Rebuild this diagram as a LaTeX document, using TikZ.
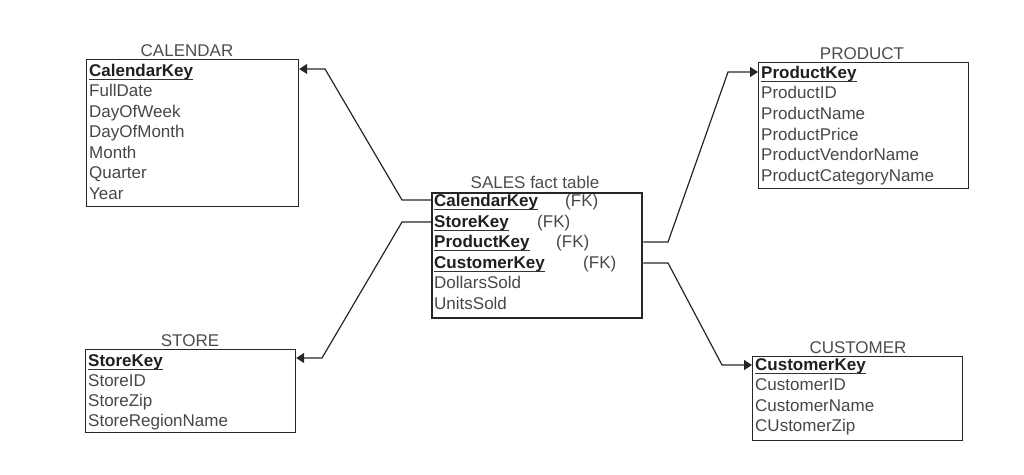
\documentclass[tikz,border=0pt]{standalone}
\usepackage{fontspec}
\setmainfont{Liberation Sans}
\usetikzlibrary{arrows.meta}
\begin{document}
\begin{tikzpicture}[x=1pt,y=-1pt,
  tbl/.style={draw=black!85, line width=1.2pt, anchor=north west, inner sep=0pt},
  fact/.style={draw=black!85, line width=2.4pt, anchor=north west, inner sep=0pt},
  row/.style={anchor=west, inner sep=0pt, text=black!72, font=\fontsize{17}{20}\selectfont, text height=12pt, text depth=3.5pt},
  ul/.style={draw=black!80, line width=1.3pt},
  key/.style={row, text=black!88, font=\fontsize{17}{20}\selectfont\bfseries,
    append after command={([yshift=-3pt]\tikzlastnode.base west) edge[ul] ([yshift=-3pt]\tikzlastnode.base east)}},
  ttl/.style={anchor=south, inner sep=0pt, text=black!70, font=\fontsize{17}{20}\selectfont},
  conn/.style={draw=black!85, line width=1.2pt},
  arr/.style={conn, -{Triangle[length=8pt,width=10pt]}}
]
\useasboundingbox (0,0) rectangle (1024,474);
% CALENDAR
\node[tbl, minimum width=212, minimum height=147] (cal) at (86,59) {};
\node[ttl] (calt) at (187,57) {CALENDAR};
\node[key] (c1) at (89,72) {CalendarKey};
\node[row] (c2) at (89,92.5) {FullDate};
\node[row] (c3) at (89,113) {DayOfWeek};
\node[row] (c4) at (89,133.5) {DayOfMonth};
\node[row] (c5) at (89,154) {Month};
\node[row] (c6) at (89,174.5) {Quarter};
\node[row] (c7) at (89,195) {Year};
% STORE
\node[tbl, minimum width=210, minimum height=83] (st) at (85,349) {};
\node[ttl] (stt) at (190,347) {STORE};
\node[key] (t1) at (88,362) {StoreKey};
\node[row] (t2) at (88,382) {StoreID};
\node[row] (t3) at (88,402) {StoreZip};
\node[row] (t4) at (88,422) {StoreRegionName};
% SALES
\node[fact, minimum width=210, minimum height=125] (sa) at (431,192) {};
\node[ttl] (sat) at (535,189) {SALES fact table};
\node[key] (s1) at (434,202.5) {CalendarKey};
\node[row] (s1f) at (565,202.5) {(FK)};
\node[key] (s2) at (434,223) {StoreKey};
\node[row] (s2f) at (537,223) {(FK)};
\node[key] (s3) at (434,243.5) {ProductKey};
\node[row] (s3f) at (556,243.5) {(FK)};
\node[key] (s4) at (434,264) {CustomerKey};
\node[row] (s4f) at (583,264) {(FK)};
\node[row] (s5) at (434,284.5) {DollarsSold};
\node[row] (s6) at (434,305) {UnitsSold};
% PRODUCT
\node[tbl, minimum width=210, minimum height=126] (pr) at (758,62) {};
\node[ttl] (prt) at (862,60) {PRODUCT};
\node[key] (p1) at (761,74) {ProductKey};
\node[row] (p2) at (761,94.6) {ProductID};
\node[row] (p3) at (761,115.2) {ProductName};
\node[row] (p4) at (761,135.8) {ProductPrice};
\node[row] (p5) at (761,156.4) {ProductVendorName};
\node[row] (p6) at (761,177) {ProductCategoryName};
% CUSTOMER
\node[tbl, minimum width=210, minimum height=84] (cu) at (752,356) {};
\node[ttl] (cut) at (858,354) {CUSTOMER};
\node[key] (u1) at (755,366) {CustomerKey};
\node[row] (u2) at (755,386.5) {CustomerID};
\node[row] (u3) at (755,407) {CustomerName};
\node[row] (u4) at (755,427.5) {CUstomerZip};
% connectors
\coordinate (k1) at (402,200);
\coordinate (k2) at (325,69);
\draw[arr] (sa.west |- k1) -- (k1) -- (k2) -- (cal.east |- k2);
\coordinate (k3) at (402,222);
\coordinate (k4) at (322,358);
\draw[arr] (sa.west |- k3) -- (k3) -- (k4) -- (st.east |- k4);
\coordinate (k5) at (668,242);
\coordinate (k6) at (728,72);
\draw[arr] (sa.east |- k5) -- (k5) -- (k6) -- (pr.west |- k6);
\coordinate (k7) at (668,263);
\coordinate (k8) at (722,365);
\draw[arr] (sa.east |- k7) -- (k7) -- (k8) -- (cu.west |- k8);
\end{tikzpicture}
\end{document}
